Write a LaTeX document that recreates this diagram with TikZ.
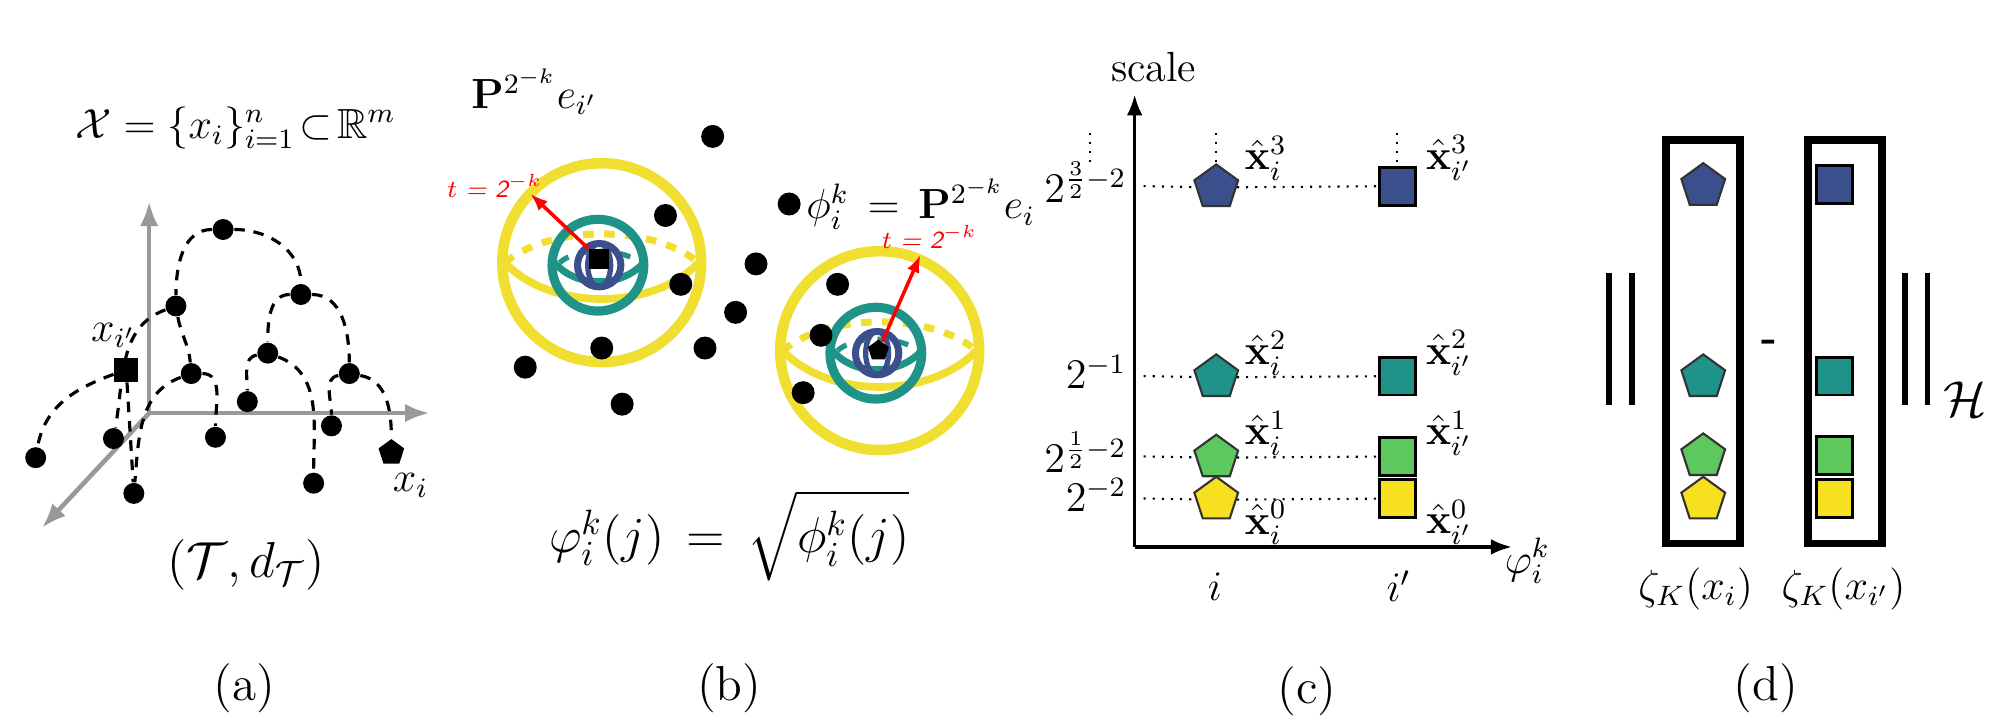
\documentclass[tikz,border=0pt]{standalone}
\usepackage{amsmath,amssymb}
\usetikzlibrary{shapes.geometric,arrows.meta}
\definecolor{navy}{HTML}{3B4F8C}
\definecolor{teal2}{HTML}{1F9388}
\definecolor{grn}{HTML}{5CC85E}
\definecolor{ylw}{HTML}{F6E01F}
\definecolor{ring}{HTML}{F0DE30}
\tikzset{
 dot/.style={circle,fill=black,inner sep=0,minimum size=0.21cm},
 edge/.style={dashed,line width=0.9pt,dash pattern=on 3pt off 2.5pt},
 ax/.style={gray!80,line width=1.3pt,-{Latex[length=7pt]}},
 pent/.style={regular polygon,regular polygon sides=5,draw=black!80,line width=0.6pt,inner sep=0,minimum size=0.46cm},
 sq/.style={rectangle,draw=black,line width=0.8pt,inner sep=0,minimum width=0.36cm,minimum height=0.38cm},
 big/.style={font=\fontsize{14}{16}\selectfont},
 mid/.style={font=\fontsize{12}{14}\selectfont},
 lvl/.style={dotted,line width=0.6pt},
 redlab/.style={red,font=\sffamily\fontsize{7}{8}\selectfont\itshape},
 redarr/.style={red,line width=1pt,-{Latex[length=5pt]}},
 bar/.style={line width=1.6pt},
}
\begin{document}
\begin{tikzpicture}[x=0.01275cm,y=-0.01275cm]
\useasboundingbox (0,0) rectangle (1568,571);
% ---------------- (a)
\coordinate (O) at (117,324);
\coordinate (Oy) at (117,158);
\coordinate (Ox) at (337,324);
\coordinate (Oz) at (33,414);
\draw[ax] (O) -- (Oy);
\draw[ax] (O) -- (Ox);
\draw[ax] (O) -- (Oz);
\node[dot] (t) at (175,180) {};
\node[dot] (a1) at (138,240) {};
\node[dot] (b1) at (236,231) {};
\node[rectangle,fill=black,inner sep=0,minimum size=0.24cm] (sqa) at (99,290) {};
\node[dot] (a2) at (150,293) {};
\node[dot] (b2) at (210,277) {};
\node[dot] (b3) at (274,293) {};
\node[dot] (b4) at (194,315) {};
\node[dot] (l1) at (89,344) {};
\node[dot] (a3) at (169,343) {};
\node[dot] (b5) at (260,334) {};
\node[dot] (l0) at (28,359) {};
\node[regular polygon,regular polygon sides=5,fill=black,inner sep=0,minimum size=0.27cm] (pa) at (307,355) {};
\node[dot] (l2) at (105,387) {};
\node[dot] (b6) at (246,379) {};
\draw[edge] (t) to[out=180,in=90] (a1);
\draw[edge] (t) to[out=0,in=90] (b1);
\draw[edge] (a1) to[out=-80,in=95] (a2);
\draw[edge] (a1) to[out=200,in=80] (l1);
\draw[edge] (sqa) to[out=200,in=80] (l0);
\draw[edge] (sqa) -- (l2);
\draw[edge] (a2) to[out=0,in=90] (a3);
\draw[edge] (a2) to[out=200,in=85] (l2);
\draw[edge] (b1) to[out=180,in=90] (b2);
\draw[edge] (b1) to[out=0,in=90] (b3);
\draw[edge] (b2) to[out=190,in=90] (b4);
\draw[edge] (b2) to[out=-20,in=90] (b6);
\draw[edge] (b3) to[out=190,in=90] (b5);
\draw[edge] (b3) to[out=-10,in=90] (pa);
\node[mid] (Xlab) at (185,100) {$\mathcal{X}=\{x_i\}_{i=1}^{n}\!\subset\!\mathbb{R}^m$};
\node[mid] (xip) at (89,263) {$x_{i'}$};
\node[mid] (xi) at (322,381) {$x_i$};
\node[big] (Tlab) at (193,443) {$(\mathcal{T},d_{\mathcal{T}})$};
\node[big] (la) at (192,540) {(a)};
% ---------------- (b)
\foreach \cx/\cy/\nm in {472/206/L,690/275/R}{
  \draw[ring,line width=3pt] (\cx,\cy) circle[radius=78];
  \draw[ring,line width=2pt,dashed] (\cx-76,\cy) .. controls (\cx-40,\cy-30) and (\cx+40,\cy-30) .. (\cx+76,\cy);
  \draw[ring,line width=2.2pt] (\cx-76,\cy) .. controls (\cx-40,\cy+38) and (\cx+40,\cy+38) .. (\cx+76,\cy);
  \draw[teal2,line width=2.6pt] (\cx-3,\cy+2) circle[radius=36];
  \draw[teal2,line width=2pt] (\cx-37,\cy) .. controls (\cx-20,\cy+20) and (\cx+15,\cy+20) .. (\cx+33,\cy);
  \draw[teal2,line width=1.5pt,dashed] (\cx-33,\cy) .. controls (\cx-20,\cy-12) and (\cx+15,\cy-12) .. (\cx+30,\cy);
  \draw[navy,line width=2pt] (\cx-2,\cy+2) circle[radius=17];
  \draw[navy,line width=1.5pt] (\cx-2,\cy+2) ellipse[x radius=9,y radius=17];
}
\node[rectangle,fill=black,inner sep=0,minimum size=0.2cm] (sqb) at (470,203) {};
\node[regular polygon,regular polygon sides=5,fill=black,inner sep=0,minimum size=0.22cm] (pb) at (689,275) {};
\coordinate (rL) at (416,152);
\coordinate (rR) at (722,200);
\draw[redarr] (sqb) -- (rL);
\draw[redarr] (pb) -- (rR);
\node[redlab] (tL) at (388,146) {$t$ = 2$^{-k}$};
\node[redlab] (tR) at (729,186) {$t$ = 2$^{-k}$};
\foreach \p/\q [count=\n] in {559/107,522/169,619/160,593/207,534/223,577/245,657/223,644/263,553/273,472/273,412/288,488/317,630/308}
  \node[dot,minimum size=0.23cm] (bd\n) at (\p,\q) {};
\node[mid,anchor=west] (Pl) at (360,72) {$\mathbf{P}^{2^{-k}}e_{i'}$};
\node[mid,anchor=west,inner sep=0] (Pr) at (632,160) {$\phi_i^k\,=\,\mathbf{P}^{2^{-k}}e_i$};
\node[big] (sq) at (572,420) {$\varphi_i^k(j)\,=\,\sqrt{\phi_i^k(j)}$};
\node[big] (lb) at (572,540) {(b)};
% ---------------- (c)
\coordinate (C0) at (890,429);
\coordinate (Cy) at (890,74);
\coordinate (Cx) at (1186,429);
\draw[line width=1pt,-{Latex[length=6pt]}] (C0) -- (Cy);
\draw[line width=1pt,-{Latex[length=6pt]}] (C0) -- (Cx);
\node[mid] (scl) at (905,53) {scale};
\node[mid] (ci) at (953,460) {$i$};
\node[mid] (cip) at (1097,460) {$i'$};
\node[mid] (cphi) at (1198,440) {$\varphi_i^k$};
\foreach \yy/\col/\lab/\k in {146/navy/{2^{\frac{3}{2}-2}}/3,295/teal2/{2^{-1}}/2,358/grn/{2^{\frac{1}{2}-2}}/1,391/ylw/{2^{-2}}/0}{
  \node[mid,anchor=east,inner sep=0] (tk\k) at (884,\yy-3) {$\lab$};
  \node[pent,fill=\col] (cp\k) at (954,\yy+1) {};
  \node[sq,fill=\col] (cs\k) at (1096,\yy) {};
  \coordinate (st\k) at (897,\yy);
  \draw[lvl] (st\k) -- (cp\k);
  \draw[lvl] (cp\k) -- (cs\k);
}
\foreach \k/\yy in {3/124,2/277,1/340}{
  \node[mid,anchor=west,inner sep=0] (hx\k) at (976,\yy) {$\hat{\mathbf{x}}_i^{\k}$};
  \node[mid,anchor=west,inner sep=0] (hy\k) at (1118,\yy) {$\hat{\mathbf{x}}_{i'}^{\k}$};
}
\node[mid,anchor=west,inner sep=0] (hx0) at (976,410) {$\hat{\mathbf{x}}_i^{0}$};
\node[mid,anchor=west,inner sep=0] (hy0) at (1118,410) {$\hat{\mathbf{x}}_{i'}^{0}$};
\coordinate (v1a) at (855,104); \coordinate (v1b) at (855,128);
\coordinate (v2a) at (954,104); \coordinate (v2b) at (954,128);
\coordinate (v3a) at (1096,104); \coordinate (v3b) at (1096,128);
\draw[lvl] (v1a) -- (v1b); \draw[lvl] (v2a) -- (v2b); \draw[lvl] (v3a) -- (v3b);
\node[big] (lc) at (1025,542) {(c)};
% ---------------- (d)
\node[draw,line width=2.2pt,minimum width=0.74cm,minimum height=4.04cm,inner sep=0] (box1) at (1336,268) {};
\node[draw,line width=2.2pt,minimum width=0.74cm,minimum height=4.04cm,inner sep=0] (box2) at (1447,268) {};
\foreach \yy/\col/\k in {145/navy/3,295/teal2/2,357/grn/1,391/ylw/0}{
  \node[pent,fill=\col] (dp\k) at (1336,\yy+1) {};
  \node[sq,fill=\col] (ds\k) at (1439,\yy) {};
}
\coordinate (n1a) at (1262,214); \coordinate (n1b) at (1262,318);
\coordinate (n2a) at (1280,214); \coordinate (n2b) at (1280,318);
\coordinate (n3a) at (1494,214); \coordinate (n3b) at (1494,318);
\coordinate (n4a) at (1512,214); \coordinate (n4b) at (1512,318);
\draw[bar] (n1a) -- (n1b); \draw[bar] (n2a) -- (n2b);
\draw[bar] (n3a) -- (n3b); \draw[bar] (n4a) -- (n4b);
\node[font=\bfseries\large] (minus) at (1388,271) {-};
\node[big] (H) at (1541,313) {$\mathcal{H}$};
\node[mid] (z1) at (1330,462) {$\zeta_K(x_i)$};
\node[mid] (z2) at (1446,462) {$\zeta_K(x_{i'})$};
\node[big] (ld) at (1385,540) {(d)};
\end{tikzpicture}
\end{document}
